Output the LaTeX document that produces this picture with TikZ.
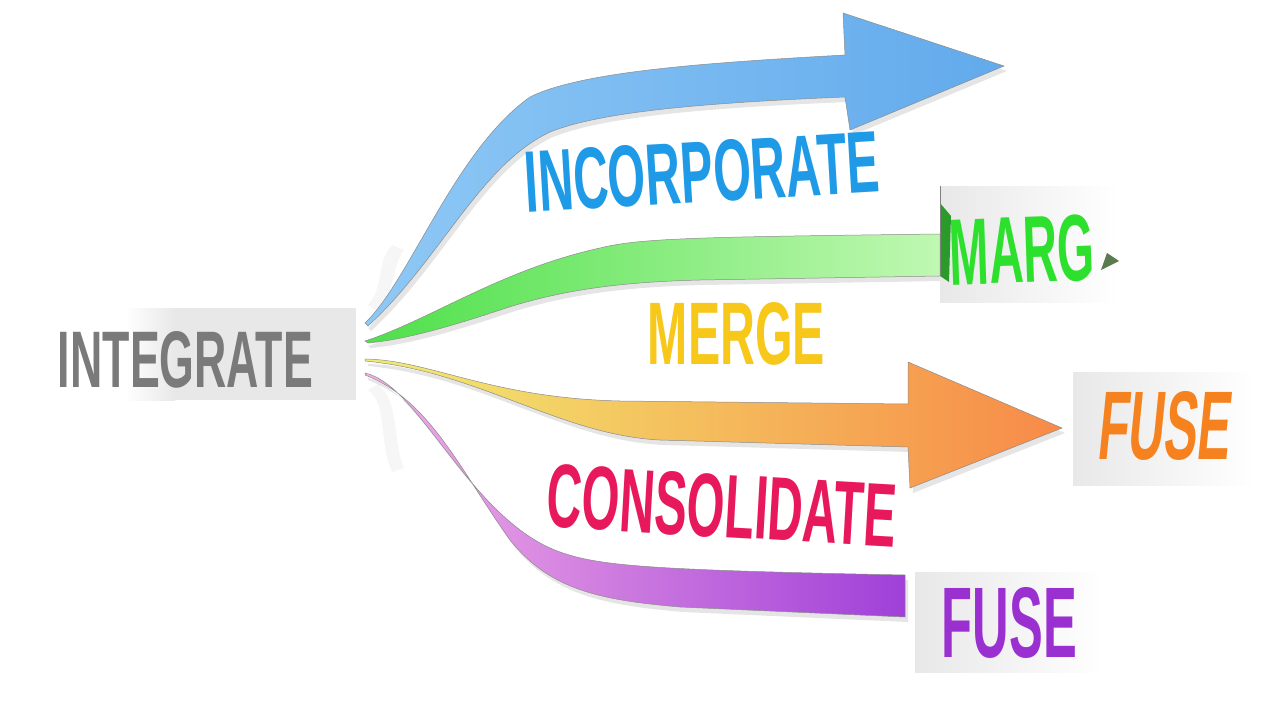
\documentclass[tikz,border=0pt]{standalone}
\usepackage{fontspec}
\setmainfont{Liberation Sans}
\usepackage{graphicx}
\usetikzlibrary{shadows}
\definecolor{txtgray}{HTML}{7A7A7A}
\definecolor{incblue}{HTML}{1F9AE6}
\definecolor{mergeyel}{HTML}{F7C81A}
\definecolor{marggreen}{HTML}{2EE02E}
\definecolor{fuseorange}{HTML}{F5821F}
\definecolor{consred}{HTML}{E8185C}
\definecolor{fusepurple}{HTML}{9A30D0}
\definecolor{boxgray}{HTML}{E8E8E8}
\definecolor{bluel}{HTML}{8EC8F5}
\definecolor{bluem}{HTML}{4B9DE2}
\definecolor{bluer}{HTML}{62AAEC}
\definecolor{greenl}{HTML}{4EE04A}
\definecolor{greenm}{HTML}{7CEC72}
\definecolor{greenr}{HTML}{C0F8B2}
\definecolor{yell}{HTML}{F2EC70}
\definecolor{yelm}{HTML}{F6B858}
\definecolor{yelr}{HTML}{F78A48}
\definecolor{pinkl}{HTML}{F5AEE6}
\definecolor{pinkm}{HTML}{D890EA}
\definecolor{pinkr}{HTML}{A040D8}
\definecolor{foldgreen}{HTML}{2A9A2A}
\definecolor{tipgray}{HTML}{5A7A50}
\tikzset{
  band/.style={draw=black!45, line width=0.5pt,
    drop shadow={shadow xshift=3pt, shadow yshift=-5pt, opacity=0.10, fill=black}},
  lbl/.style={inner sep=0pt, outer sep=0pt},
  fadebox/.style={left color=boxgray, right color=white}
}
\newcommand\fitlbl[3]{\resizebox{#1pt}{#2pt}{\bfseries #3}}
\begin{document}
\begin{tikzpicture}[x=1pt,y=-1pt]
\useasboundingbox (0,0) rectangle (1280,720);
\fill[white] (0,0) rectangle (1280,720);

% faint paper curls near the origin
\fill[black, opacity=0.035] (368,305) .. controls (385,285) and (376,262) .. (392,245)
  -- (404,250) .. controls (390,270) and (396,292) .. (378,312) -- cycle;
\fill[black, opacity=0.035] (368,390) .. controls (388,405) and (378,440) .. (392,472)
  -- (404,468) .. controls (392,440) and (400,402) .. (378,384) -- cycle;

% blue arrow
\path[band, left color=bluel, middle color=bluem, right color=bluer]
  (365,323) .. controls (410,280) and (455,150) .. (530,97)
  .. controls (580,72) and (700,63) .. (845,55)
  -- (843,13) -- (1004,66) -- (850,130) -- (845,97)
  .. controls (700,103) and (600,112) .. (550,132)
  .. controls (480,165) and (440,260) .. (368,326) -- cycle;

% green arrow
\path[band, left color=greenl, middle color=greenm, right color=greenr]
  (365,341) .. controls (430,320) and (500,270) .. (600,248)
  .. controls (640,238) and (700,237) .. (940,234)
  -- (940,276) -- (700,280)
  .. controls (620,282) and (560,290) .. (500,310)
  .. controls (440,330) and (400,340) .. (368,343) -- cycle;

% yellow-orange arrow
\path[band, left color=yell, middle color=yelm, right color=yelr]
  (365,359) .. controls (430,360) and (490,398) .. (620,401)
  -- (908,404) -- (908,362) -- (1062,428) -- (910,488) -- (908,447)
  -- (660,440) .. controls (560,435) and (480,372) .. (365,361) -- cycle;

% pink-purple arrow
\path[band, left color=pinkl, middle color=pinkm, right color=pinkr]
  (365,373) .. controls (420,385) and (470,520) .. (560,552)
  .. controls (600,566) and (650,570) .. (905,575)
  -- (905,617) -- (680,607)
  .. controls (600,600) and (550,590) .. (510,540)
  .. controls (460,470) and (430,400) .. (365,375) -- cycle;

% background boxes
\shade[left color=white, right color=boxgray] (125,308) rectangle (175,400);
\fill[boxgray] (175,308) rectangle (356,400);
\shade[fadebox] (940,186) rectangle (1118,302);
\shade[fadebox] (1073,372) rectangle (1255,485);
\shade[fadebox] (915,572) rectangle (1105,672);

% green fold and tip
\fill[foldgreen] (940,203) -- (951,216) -- (949,282) -- (940,276) -- cycle;
\draw[black!50, line width=0.6pt] (940,186) -- (940,276);
\fill[tipgray] (1101,270) -- (1119,261) -- (1107,253) -- cycle;

% labels
\node[lbl, text=txtgray] (integrate) at (185.5,360) {\fitlbl{255}{56}{INTEGRATE}};
\node[lbl, text=incblue, rotate=3.4] (incorporate) at (702,172) {\fitlbl{355}{61}{INCORPORATE}};
\node[lbl, text=mergeyel] (merge) at (736.5,334) {\fitlbl{177}{62}{MERGE}};
\node[lbl, text=marggreen, rotate=2] (marg) at (1022,250) {\fitlbl{145}{66}{MARG}};
\node[lbl, text=fuseorange, xslant=0.1, transform shape] (fuse1) at (1166,426) {\fitlbl{133}{68}{FUSE}};
\node[lbl, text=consred, rotate=-3.3] (consolidate) at (722,506) {\fitlbl{350}{63}{CONSOLIDATE}};
\node[lbl, text=fusepurple] (fuse2) at (1009.5,623) {\fitlbl{135}{70}{FUSE}};
\end{tikzpicture}
\end{document}
